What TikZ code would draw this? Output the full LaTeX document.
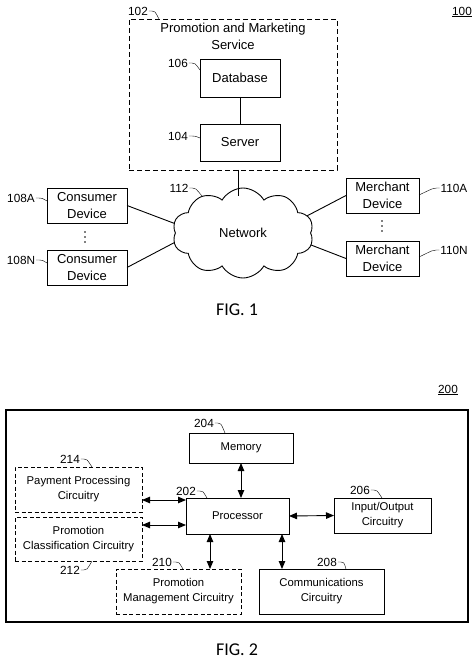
\documentclass[tikz,border=0pt]{standalone}
\usepackage{fontspec}
\setmainfont{Liberation Sans}
\newfontfamily\figfont{Carlito}
\usetikzlibrary{arrows.meta,shapes.symbols,calc}
\begin{document}
\begin{tikzpicture}[x=1pt,y=-1pt,
  every node/.style={inner sep=0pt, outer sep=0pt},
  box/.style={draw, line width=0.9pt, align=center, font=\fontsize{13}{16.5}\selectfont},
  dbox/.style={draw, line width=0.9pt, dash pattern=on 4pt off 2.5pt, align=center, font=\fontsize{11.3}{15}\selectfont},
  sbox/.style={draw, line width=0.9pt, align=center, font=\fontsize{11.3}{15}\selectfont},
  lbl/.style={font=\fontsize{11.8}{14}\selectfont, inner sep=1pt},
  hook/.style={line width=0.7pt, to path={(\tikztostart) -- ($(\tikztostart)+(3,0)$) .. controls ($(\tikztostart)+(6,0)$) .. (\tikztotarget)}},
  hookl/.style={line width=0.7pt, to path={(\tikztostart) -- ($(\tikztostart)+(-3,0)$) .. controls ($(\tikztostart)+(-6,0)$) .. (\tikztotarget)}},
  conn/.style={line width=0.9pt},
  dotmark/.style={fill, circle, minimum size=1.8pt},
  arr/.style={line width=0.9pt, {Triangle[length=8pt,width=6.5pt]}-{Triangle[length=8pt,width=6.5pt]}},
  figlbl/.style={font=\figfont\fontsize{18}{20}\selectfont}
]
\useasboundingbox (0,0) rectangle (474,660);

% ---------------- FIG. 1 ----------------
\node[lbl] (l100) at (462,12) {\underline{100}};
\node[draw, line width=0.9pt, dash pattern=on 5pt off 3pt, minimum width=208, minimum height=151] (svc) at (233,94.5) {};
\node[align=center, font=\fontsize{13}{16.5}\selectfont] (svct) at (233,36.5) {Promotion and Marketing\\Service};
\node[box, minimum width=80, minimum height=38] (db) at (240,78) {Database};
\node[box, minimum width=80, minimum height=37] (srv) at (240,142.5) {Server};
\node[draw, line width=0.9pt, cloud, cloud puffs=10, cloud puff arc=120, aspect=1.55, minimum width=141, minimum height=90, font=\fontsize{13}{16.5}\selectfont] (net) at (243,233) {Network};
\node[box, minimum width=80, minimum height=35] (c108a) at (87,205.5) {Consumer\\Device};
\node[box, minimum width=80, minimum height=35] (c108n) at (87,267.5) {Consumer\\Device};
\node[box, minimum width=73, minimum height=35] (m110a) at (382.5,195.5) {Merchant\\Device};
\node[box, minimum width=73, minimum height=35] (m110n) at (382.5,258.5) {Merchant\\Device};
\node[dotmark] (cd1) at (85,232) {};
\node[dotmark] (cd2) at (85,237) {};
\node[dotmark] (cd3) at (85,242) {};
\node[dotmark] (md1) at (382,221) {};
\node[dotmark] (md2) at (382,226) {};
\node[dotmark] (md3) at (382,231) {};

\node[lbl] (l102) at (138,11) {102};
\node[lbl] (l106) at (178,63) {106};
\node[lbl] (l104) at (178,136) {104};
\node[lbl] (l112) at (179,188) {112};
\node[lbl] (l108a) at (21,198) {108A};
\node[lbl] (l108n) at (21,260) {108N};
\node[lbl] (l110a) at (454,188) {110A};
\node[lbl] (l110n) at (454,250) {110N};

\draw (l102.east) to[hook] ([xshift=30pt]svc.north west);
\draw (l106.east) to[hook] ([yshift=-11pt]db.north west);
\draw (l104.east) to[hook] ([yshift=-14pt]srv.north west);
\draw (l112.east) to[hook] (net.138);
\draw (l108a.east) to[hook] ([yshift=-13pt]c108a.north west);
\draw (l108n.east) to[hook] ([yshift=-13pt]c108n.north west);
\draw (l110a.west) to[hookl] ([yshift=-17pt]m110a.north east);
\draw (l110n.west) to[hookl] ([yshift=-16pt]m110n.north east);

\coordinate (nettop) at (238,196);
\draw[conn] (db) -- (srv);
\draw[conn] (svc.south -| nettop) -- (nettop);
\draw[conn] (c108a.east) -- (net.172);
\draw[conn] (c108n.east) -- (net.188);
\draw[conn] (m110a.west) -- (net.15);
\draw[conn] (m110n.west) -- (net.350);

\node[figlbl] (fig1) at (237,310) {FIG. 1};

% ---------------- FIG. 2 ----------------
\node[lbl] (l200) at (448,390) {\underline{200}};
\node[draw, line width=2pt, minimum width=462, minimum height=212] (outer) at (237,516) {};
\node[sbox, minimum width=104, minimum height=30] (mem) at (241,448) {Memory};
\node[sbox, minimum width=103, minimum height=36] (proc) at (237.5,516) {Processor};
\node[sbox, minimum width=97, minimum height=35] (io) at (382.5,515.5) {Input/Output\\Circuitry};
\node[dbox, minimum width=127, minimum height=45] (pay) at (78.5,489.5) {Payment Processing\\Circuitry};
\node[dbox, minimum width=127, minimum height=44] (cls) at (78.5,539) {Promotion\\Classification Circuitry};
\node[dbox, minimum width=125, minimum height=45] (mgmt) at (178.5,591.5) {Promotion\\Management Circuitry};
\node[sbox, minimum width=125, minimum height=45] (comm) at (321.5,591.5) {Communications\\Circuitry};

\node[lbl] (l202) at (186,491) {202};
\node[lbl] (l204) at (204,423) {204};
\node[lbl] (l206) at (360,490) {206};
\node[lbl] (l214) at (70,459) {214};
\node[lbl] (l212) at (70,570) {212};
\node[lbl] (l210) at (162,562) {210};
\node[lbl] (l208) at (327,562) {208};

\draw (l202.east) to[hook] ([xshift=21pt]proc.north west);
\draw (l204.east) to[hook] ([xshift=36pt]mem.north west);
\draw (l206.east) to[hook] ([xshift=48pt]io.north west);
\draw (l214.east) to[hook] ([xshift=77pt]pay.north west);
\draw (l212.east) to[hook] ([xshift=77pt]cls.south west);
\draw (l210.east) to[hook] ([xshift=67pt]mgmt.north west);
\draw (l208.east) to[hook] ([xshift=87pt]comm.north west);

\draw[arr] (mem.south) -- (mem.south |- proc.north);
\draw[arr] (pay.east |- 0,500) -- (proc.west |- 0,500);
\draw[arr] (cls.east |- 0,525) -- (proc.west |- 0,525);
\draw[arr] (proc.east) -- (io.west);
\draw[arr] (proc.south -| 210,0) -- (mgmt.north -| 210,0);
\draw[arr] (proc.south -| 282,0) -- (comm.north -| 282,0);

\node[figlbl] (fig2) at (237,650) {FIG. 2};
\end{tikzpicture}
\end{document}
